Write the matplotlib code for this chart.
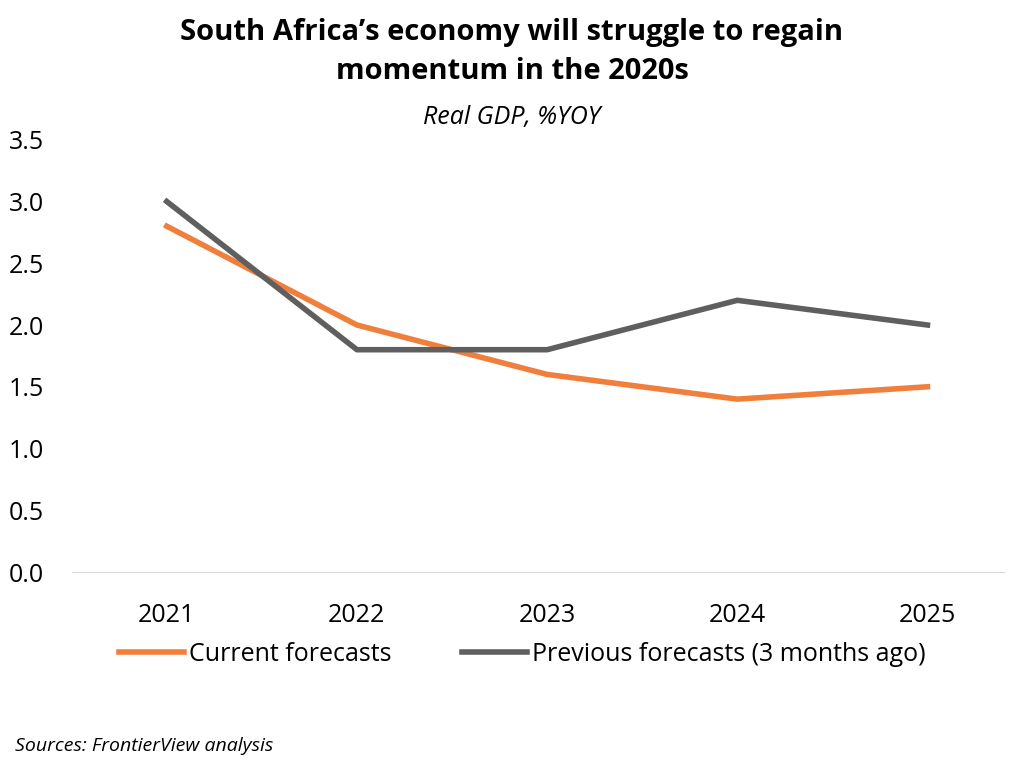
import matplotlib.pyplot as plt

years = ['2021', '2022', '2023', '2024', '2025']
current = [2.8, 2.0, 1.6, 1.4, 1.5]
previous = [3.0, 1.8, 1.8, 2.2, 2.0]
yticks = [0.0, 0.5, 1.0, 1.5, 2.0, 2.5, 3.0, 3.5]

plt.rcParams['font.family'] = ['Open Sans', 'DejaVu Sans']

fig = plt.figure(figsize=(10.24, 7.72), dpi=100)
ax = fig.add_axes([0.07, 0.259, 0.91, 0.56])

x = range(len(years))
ax.plot(x, current, color='#F07F3C', lw=4, label='Current forecasts')
ax.plot(x, previous, color='#5F5F5F', lw=4, label='Previous forecasts (3 months ago)')

ax.set_xlim(-0.5, 4.4)
ax.set_ylim(0, 3.5)
ax.set_yticks(yticks)
ax.set_yticklabels([f'{v:.1f}' for v in yticks], fontsize=18)
ax.set_xticks(list(x))
ax.set_xticklabels(years, fontsize=18)
ax.tick_params(axis='x', length=0, pad=22)
ax.tick_params(axis='y', length=0, pad=20)
for s in ['top', 'right', 'left']:
    ax.spines[s].set_visible(False)
ax.spines['bottom'].set_color('#D9D9D9')

fig.text(0.5, 0.933, 'South Africa\u2019s economy will struggle to regain\nmomentum in the 2020s',
         ha='center', va='center', fontsize=21, fontweight='bold', linespacing=1.45)
fig.text(0.5, 0.84, 'Real GDP, %YOY', ha='center', fontsize=18, style='italic')
fig.legend(loc='center', bbox_to_anchor=(0.51, 0.152), ncol=2, frameon=False,
           fontsize=18, handlelength=2.6, columnspacing=2.8, handletextpad=0.2)
fig.text(0.015, 0.027, 'Sources: FrontierView analysis', fontsize=14, style='italic')

fig.savefig('out.png')
